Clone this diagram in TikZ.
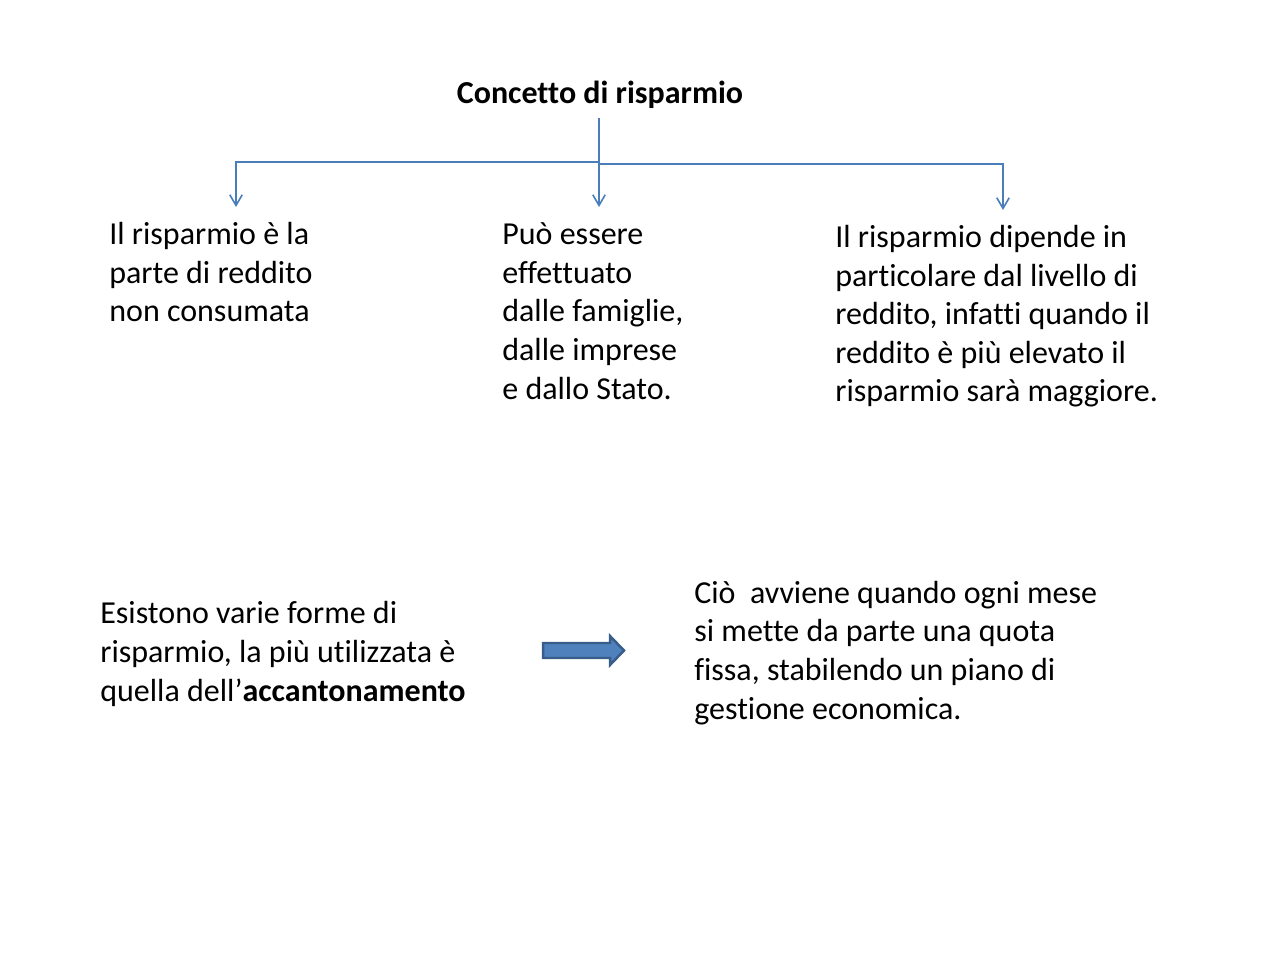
\documentclass[tikz,border=0pt]{standalone}
\usepackage{fontspec}
\setmainfont{Carlito}[Ligatures=NoCommon]
\usepackage{tikz}
\usetikzlibrary{calc, positioning, arrows.meta}

\definecolor{linkblue}{RGB}{74,126,187}
\definecolor{arrowfill}{RGB}{79,129,189}
\definecolor{arrowedge}{RGB}{56,93,138}

\tikzset{
  testo/.style={anchor=base west, align=left, inner sep=0pt, font=\fontsize{18}{21.7}\selectfont},
  conn/.style={draw=linkblue, line width=0.9pt, -{Straight Barb[length=6pt,width=7pt]}},
}

\begin{document}
\begin{tikzpicture}[x=0.5625pt, y=-0.5625pt]
        \useasboundingbox (0,0) rectangle (1280,960);
        % titolo
        \node[testo, anchor=base] (titolo) at (600,104) {\bfseries Concetto di risparmio};
        % prima riga (base = ultima riga)
        \node[testo] (parte) at (109,322) {Il risparmio è la\\parte di reddito\\non consumata};
        \node[testo] (soggetti) at (502,399) {Può essere\\effettuato\\dalle famiglie,\\dalle imprese\\e dallo Stato.};
        \node[testo] (livello) at (835,402) {Il risparmio dipende in\\particolare dal livello di\\reddito, infatti quando il\\reddito è più elevato il\\risparmio sarà maggiore.};
        % seconda riga
        \node[testo] (forme) at (100,701) {Esistono varie forme di\\risparmio, la più utilizzata è\\quella dell’\textbf{accantonamento}};
        \node[testo] (quota) at (694,719) {Ciò\ \ avviene quando ogni mese\\si mette da parte una quota\\fissa, stabilendo un piano di\\gestione economica.};
        % collegamenti
        \coordinate (radice) at (599,118);
        \coordinate (t1) at (236,207);
        \coordinate (t2) at (599,207);
        \coordinate (t3) at (1003,210);
        \draw[conn] (radice) -- (radice |- 0,162) -| (t1);
        \draw[conn] (radice) -- (t2);
        \draw[conn] (radice |- 0,164) -| (t3);
        % freccia piena
        \filldraw[fill=arrowfill, draw=arrowedge, line width=1.4pt, line join=miter]
            (543,643) -- (610,643) -- (610,636) -- (624,650.5) -- (610,665) -- (610,658) -- (543,658) -- cycle;
\end{tikzpicture}
\end{document}
